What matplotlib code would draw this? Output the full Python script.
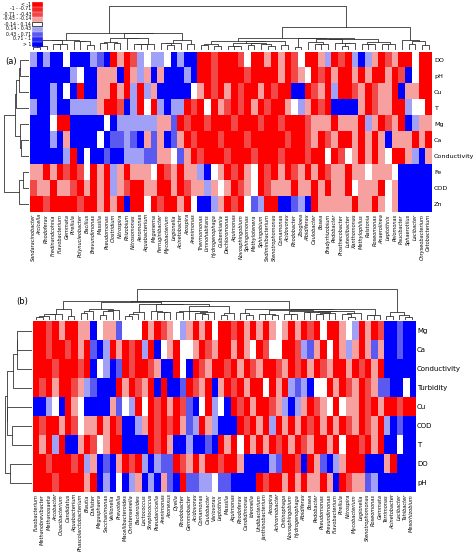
import numpy as np
import matplotlib
matplotlib.use("Agg")
import matplotlib.pyplot as plt
from matplotlib.colors import ListedColormap, BoundaryNorm

rows_a = ["DO", "pH", "Cu", "T", "Mg", "Ca", "Conductivity", "Fe", "COD", "Zn"]
cells_a = [
    "lBlBBwBBBl mBRpRrlwll wBlBBRRrRR RrwRRpRpRr wRRplRrRlB lpRrpRRwRR",
    "BBBBBBlwBB pppBRplpBp BBBlBRRrRR RRrRRRRpRr pwRrRpRRpR pRRpRrBwRR",
    "BBBlBwBRBB ppRpRlRlpB BBBBwpRrRp RrRRpRrRRB BRrpRlRRrp RrppRBppRR",
    "lBBlBBllll pRRrBlRwRl BllRrRwRpr RrRpRrRRpw lpRrRBBBBp RrppRRlwwR",
    "BBBwRRBBBB BwBllllllp pmRrRRrRRR rRRRrRRrRR RrpppRpppR lpRrpRBlpp",
    "BBBlBpBBBB wBmmlmBpmp BmpRrRRRrR RRrRRRRRrR RrpRrpRRpR pRpBpppRpR",
    "BBBBBlRBwB BmBBlllmmp pwmpRrRRRr RRRrRRRrRR RrRRwRrwpR pRpwRRplBp",
    "ppRpRrRrwR pRlpRpppwR rpRpplBwpR rRpwRrRpRr pRpRrppRpp wpppwBBBBB",
    "rppRpprRpR pRlprRRppR RpRrpplpwp RrpwRrpppR ppRpRppRwp ppRwpBBBBB",
    "RRrRRRRrRR pRpRBRRwRr RRpRwBBlpR rRwmlRRBBm lBRpppppRp pRpwpBBBBB",
]
cols_a = ["Sandaracinobacter", "Arcicella", "Rhodoferax", "Fredinandcohnia", "Flavobacterium",
          "Gemmata", "Pirellula", "Polynucleobacter", "Bacillus", "Brevundimonas",
          "Massilia", "Pseudomonas", "Clostridium", "Nitrospira", "Rhizobium",
          "Nitrosomonas", "Aeromonas", "Aquabacterium", "Meganema", "Ferruginibacter",
          "Mycobacterium", "Legionella", "Acinetobacter", "Azospira", "Arenimonas",
          "Thermomonas", "Limnohabitans", "Hydrogenophaga", "Gulbenkiania", "Dechloromonas",
          "Aquimonas", "Novosphingobium", "Sphingomonas", "Methylotenera", "Sphingobium",
          "Sediminibacterium", "Stenotrophomonas", "Comamonas", "Acidovorax", "Rhodobacter",
          "Zoogloea", "Albidiferax", "Caulobacter", "Bosea", "Bradyrhizobium",
          "Pedobacter", "Prosthecobacter", "Luteolibacter", "Xanthomonas", "Methylophilus",
          "Ralstonia", "Roseomonas", "Anaerolinea", "Leptothrix", "Pelomonas",
          "Paucibacter", "Sphaerotilus", "Lacibacter", "Chryseobacterium", "Cetobacterium"]

rows_b = ["Mg", "Ca", "Conductivity", "Turbidity", "Cu", "COD", "T", "DO", "pH"]
cells_b = [
    "RRrRpRRppB wppmwwwRpR rpwlpRpRwR RrRpRpRpwp RpRrRwRRpw lRpRrBBmBB",
    "RRrRRrRpRm BlRpRrRlRB wpRwwpRrpR RpRpwRrwwR RrlmpRwRpl pRpmpBBmBB",
    "RRRrRRRrRB wlBmRrRRrp BBRwBRrpRR rRpRrpRRrp RrRpRrpRRp RrRpRBBBBB",
    "RrRpRRrplm BBBRpRrpRB RBBmRrpRBp RrRpRRwRpR lmlBwwRpRr pRrpmmBBwB",
    "BBlwBRpwBB BBpmwlRwRr RpRrmBwRlw BRrRpRRrpl BlpRrpwRwp pRrRpRRrRR",
    "RrRRpRrwpp RpRrBBlpRr RrRpmlRplB BBRrRpRlRp RpRrRpRpRr pRrpRlBmBB",
    "RpRlRBBpRr wpRRBBBBRr RpBBlBBmBR pRwRpRpRrR pRrpRRpRwR RrRpRBBwBB",
    "RRrRRRrRlp BmBpRrRlBl mmRrpRpRRr RRpBBBBlmR RrBRpmBlpR RRBBBpRBBB",
    "RRRrRRRRpR BlBwBlpBlB pmBRmmllwm mBBBBRrRRp RpRppRpBRr ppmlBBBBBB",
]
cols_b = ["Fusobacterium", "Methanobrevibacter", "Methanosaeta", "Arcobacter", "Cloacibacterium",
          "Candidatus", "Aquabacterium", "Phascolarctobacterium", "Blautia", "Dialister",
          "Megasphaera", "Saccharimonas", "Veillonella", "Prevotella", "Macellibacteroides",
          "Christensenella", "Bacteroides", "Lactococcus", "Streptococcus", "Pseudarcicella",
          "Arenimonas", "Azonexus", "Dyella", "Rhodobacter", "Gemmobacter",
          "Acidovorax", "Comamonas", "Caulobacter", "Variovorax", "Leptothrix",
          "Massilia", "Aquimonas", "Rhodoferax", "Candidimonas", "Ideonella",
          "Undibacterium", "Janthinobacterium", "Azospira", "Achromobacter", "Chitinophaga",
          "Novosphingobium", "Hydrogenophaga", "Albidiferax", "Bosea", "Pedobacter",
          "Pseudomonas", "Brevundimonas", "Flavobacterium", "Pirellula", "Nitrospira",
          "Mycobacterium", "Legionella", "Stenotrophomonas", "Roseomonas", "Gemmata",
          "Terrimonas", "Acinetobacter", "Lacibacter", "Tahibacter", "Mesorhizobium"]

level = {"R": 0, "r": 2, "p": 3, "w": 4, "l": 5, "m": 6, "B": 8}
colors9 = ["#ff0000", "#f02828", "#f24848", "#f6a0a0", "#ffffff",
           "#a0a0f6", "#5a5af0", "#2828f0", "#0000ff"]
legend_labels = ["< -1", "-1 - -0.71", "-0.71 - -0.43", "-0.43 - -0.14", "-0.14 - 0.14",
                 "0.14 - 0.43", "0.43 - 0.71", "0.71 - 1", "> 1"]
cmap = ListedColormap(colors9)
norm = BoundaryNorm(np.arange(-0.5, 9.5, 1), 9)


def to_matrix(cells):
    return np.array([[level[c] for c in s.replace(" ", "")] for s in cells], dtype=float)


def contiguous_tree(M):
    clusters = [(i + 0.0, 0.0, M[i].copy(), 1) for i in range(len(M))]
    links = []
    while len(clusters) > 1:
        d = [np.linalg.norm(clusters[k][2] - clusters[k + 1][2]) * np.sqrt(
            clusters[k][3] * clusters[k + 1][3] / (clusters[k][3] + clusters[k + 1][3]))
             for k in range(len(clusters) - 1)]
        k = int(np.argmin(d))
        a, b = clusters[k], clusters[k + 1]
        h = max(d[k], a[1], b[1]) + 0.01
        links.append((a[0], a[1], b[0], b[1], h))
        n = a[3] + b[3]
        clusters[k:k + 2] = [((a[0] + b[0]) / 2, h, (a[2] * a[3] + b[2] * b[3]) / n, n)]
    return links


def draw_dendro(ax, links, n, orient):
    for p1, h1, p2, h2, h in links:
        if orient == "top":
            ax.plot([p1, p1, p2, p2], [h1, h, h, h2], color="#333333", lw=0.6)
        else:
            ax.plot([-h1, -h, -h, -h2], [p1, p1, p2, p2], color="#333333", lw=0.6)
    hmax = max(l[4] for l in links)
    if orient == "top":
        ax.set_xlim(-0.5, n - 0.5); ax.set_ylim(0, hmax * 1.02)
    else:
        ax.set_ylim(n - 0.5, -0.5); ax.set_xlim(-hmax * 1.02, 0)
    ax.axis("off")


fig = plt.figure(figsize=(4.74, 5.53), dpi=100)
W, H = 474, 553


def box(x0, y0, x1, y1):
    return [x0 / W, 1 - y1 / H, (x1 - x0) / W, (y1 - y0) / H]


def panel(M, rows, cols, hx, hy, tdy, ldx, rfs):
    ax = fig.add_axes(box(hx[0], hy[0], hx[1], hy[1]))
    ax.imshow(M, cmap=cmap, norm=norm, aspect="auto", interpolation="nearest")
    ax.set_yticks(range(len(rows)))
    ax.set_yticklabels(rows, fontsize=rfs)
    ax.yaxis.tick_right()
    ax.set_xticks(range(len(cols)))
    ax.set_xticklabels(cols, rotation=90, fontsize=3.6, style="italic")
    ax.tick_params(length=0, pad=1.5)
    for s in ax.spines.values():
        s.set_visible(False)
    axt = fig.add_axes(box(hx[0], tdy[0], hx[1], tdy[1]))
    draw_dendro(axt, contiguous_tree(M.T), M.shape[1], "top")
    axl = fig.add_axes(box(ldx[0], hy[0], ldx[1], hy[1]))
    draw_dendro(axl, contiguous_tree(M), M.shape[0], "left")


Ma = to_matrix(cells_a)
Mb = to_matrix(cells_b)
panel(Ma, rows_a, cols_a, (30, 432), (52, 212), (5, 50), (4, 29), 4.6)
panel(Mb, rows_b, cols_b, (33, 415), (321, 492), (288, 320), (4, 32), 5)

fig.text(5 / W, 1 - 64 / H, "(a)", fontsize=6)
fig.text(16 / W, 1 - 304 / H, "(b)", fontsize=6)

for i, (c, lab) in enumerate(zip(colors9, legend_labels)):
    y = 2 + i * 5
    fig.patches.append(plt.Rectangle((32 / W, 1 - (y + 4) / H), 10 / W, 4 / H,
                                     transform=fig.transFigure, facecolor=c,
                                     edgecolor="black" if c == "#ffffff" else c, lw=0.5))
    fig.text(31 / W, 1 - (y + 2) / H, lab, fontsize=3.3, ha="right", va="center")

fig.savefig("out.png", dpi=100)
